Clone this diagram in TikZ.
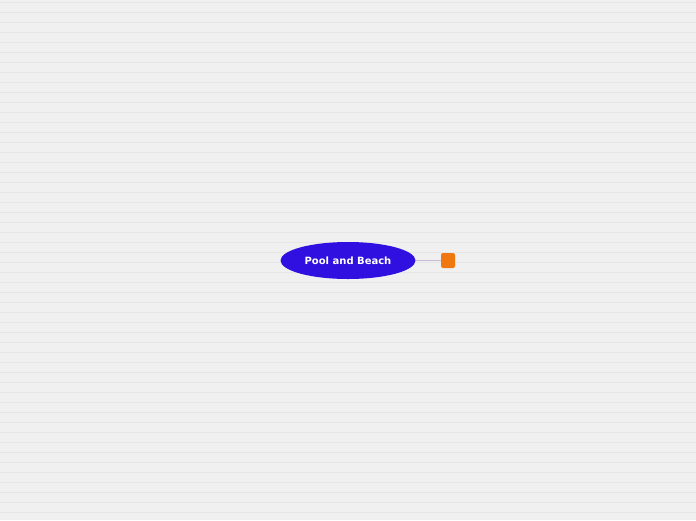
\documentclass[tikz,border=0pt]{standalone}
\usepackage{fontspec}
\setmainfont{DejaVu Sans}
\usetikzlibrary{shapes.geometric}
\definecolor{bg}{HTML}{F0F0F0}
\definecolor{bgline}{HTML}{E6E6E6}
\definecolor{mainblue}{HTML}{3010E0}
\definecolor{link}{HTML}{CAB8DA}
\definecolor{knob}{HTML}{F07810}
\tikzset{
  topic/.style={ellipse, fill=mainblue, text=white, font=\bfseries\fontsize{10}{12}\selectfont, minimum width=135pt, minimum height=37pt, inner sep=0pt},
  knobbox/.style={rectangle, rounded corners=2pt, fill=knob, minimum width=14pt, minimum height=15pt, inner sep=0pt},
  linkline/.style={draw=link, line width=1.3pt}
}
\begin{document}
\begin{tikzpicture}[x=1pt,y=-1pt]
\fill[bg] (0,0) rectangle (696,520);
\useasboundingbox (0,0) rectangle (696,520);
\foreach \y in {2,12,...,512} \draw[bgline, line width=0.8pt] (0,\y) -- (696,\y);
\node[topic] (root) at (348,260.5) {Pool and Beach};
\node[knobbox] (k) at (448,260.5) {};
\draw[linkline] (root.east) -- (k.west);
\end{tikzpicture}
\end{document}
